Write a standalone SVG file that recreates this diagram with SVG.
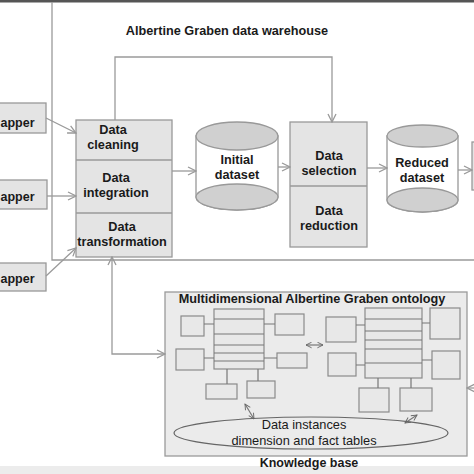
<svg xmlns="http://www.w3.org/2000/svg" width="474" height="474" viewBox="0 0 474 474">
<defs>
<style>
.box{fill:#e4e4e4;stroke:#999;stroke-width:1.3}
.ln{fill:none;stroke:#9a9a9a;stroke-width:1.3}
.cyl{fill:#fff;stroke:#999;stroke-width:1.3}
.cap{fill:#d0d0d0;stroke:#999;stroke-width:1.3}
.t{font-family:"Liberation Sans",Arial,sans-serif;font-size:12.7px;font-weight:bold;fill:#1a1a1a;text-anchor:middle}
.tw{font-family:"Liberation Sans",Arial,sans-serif;font-size:12.5px;font-weight:bold;fill:#1a1a1a}
.tn{font-family:"Liberation Sans",Arial,sans-serif;font-size:12.8px;fill:#1a1a1a;text-anchor:middle}
.sb{fill:#e8e8e8;stroke:#8a8a8a;stroke-width:1.2}
.sl{fill:none;stroke:#777;stroke-width:1.2}
</style>
<marker id="ah" viewBox="0 0 10 10" refX="9" refY="5" markerWidth="10" markerHeight="10" markerUnits="userSpaceOnUse" orient="auto-start-reverse">
<path d="M1,1 L9,5 L1,9" fill="none" stroke="#999" stroke-width="1.3"/>
</marker>
<marker id="sa" viewBox="0 0 10 10" refX="9" refY="5" markerWidth="7" markerHeight="7" markerUnits="userSpaceOnUse" orient="auto-start-reverse">
<path d="M1,1 L9,5 L1,9" fill="none" stroke="#666" stroke-width="1.3"/>
</marker>
</defs>
<rect width="474" height="474" fill="#fff"/>
<rect x="0" y="0" width="474" height="2.5" fill="#555"/>
<rect x="0" y="466" width="474" height="8" fill="#ececec"/>
<g id="warehouse">
<path class="ln" d="M52,2 V260 H474"/>
<text class="t" x="227" y="35">Albertine Graben data warehouse</text>
</g>
<g id="wrapper1"><rect class="box" x="-5" y="103" width="51" height="30"/><text class="tw" x="0.5" y="127">apper</text></g>
<g id="wrapper2"><rect class="box" x="-5" y="180" width="52" height="29"/><text class="tw" x="0.5" y="201">apper</text></g>
<g id="wrapper3"><rect class="box" x="-5" y="263" width="51" height="28"/><text class="tw" x="0.5" y="283">apper</text></g>
<g id="etl">
<rect class="box" x="76" y="120" width="96" height="137"/>
<line class="ln" x1="76" y1="160" x2="172" y2="160"/>
<line class="ln" x1="76" y1="213" x2="172" y2="213"/>
<text class="t" x="113" y="134">Data</text><text class="t" x="113" y="149">cleaning</text>
<text class="t" x="116" y="182">Data</text><text class="t" x="116" y="197">integration</text>
<text class="t" x="122" y="231">Data</text><text class="t" x="122" y="246">transformation</text>
</g>
<g id="initial">
<path class="cyl" d="M196,136 V197 A41,13 0 0 0 278,197 V136 Z"/>
<ellipse class="cap" cx="237" cy="197" rx="41" ry="13"/>
<ellipse class="cap" cx="237" cy="136" rx="41" ry="14"/>
<text class="t" x="237" y="164">Initial</text><text class="t" x="237" y="179">dataset</text>
</g>
<g id="selection">
<rect class="box" x="290" y="122" width="77" height="125"/>
<line class="ln" x1="290" y1="186" x2="367" y2="186"/>
<text class="t" x="329" y="160">Data</text><text class="t" x="329" y="175">selection</text>
<text class="t" x="329" y="215">Data</text><text class="t" x="329" y="230">reduction</text>
</g>
<g id="reduced">
<path class="cyl" d="M387,136 V200 A35.5,12 0 0 0 458,200 V136 Z"/>
<ellipse class="cap" cx="422.5" cy="200" rx="35.5" ry="12"/>
<ellipse class="cap" cx="422.5" cy="136" rx="35.5" ry="11"/>
<text class="t" x="422" y="167">Reduced</text><text class="t" x="422" y="182">dataset</text>
</g>
<g id="rightbox"><rect class="box" x="472" y="142" width="10" height="48"/></g>
<g id="ontology">
<rect x="165" y="292" width="302" height="164" fill="#ebebeb" stroke="#9a9a9a" stroke-width="1.3"/>
<text class="t" x="312" y="303" style="font-size:12.7px">Multidimensional Albertine Graben ontology</text>
<rect class="sb" x="214" y="309" width="50" height="60"/>
<path class="sl" d="M214,319 H264 M214,334 H264 M214,345 H264 M214,353 H264 M214,361 H264"/>
<rect class="sb" x="181" y="316" width="23" height="20"/>
<rect class="sb" x="176" y="349" width="28" height="21"/>
<rect class="sb" x="275" y="314" width="29" height="21"/>
<rect class="sb" x="277" y="353" width="30" height="15"/>
<rect class="sb" x="206" y="384" width="31" height="15"/>
<rect class="sb" x="247" y="381" width="28" height="17"/>
<path class="sl" d="M204,324 H214 M204,358 H214 M264,324 H275 M264,358 H277 M227,369 V384 M258,369 V381"/>
<rect class="sb" x="365" y="308" width="57" height="70"/>
<path class="sl" d="M365,319 H422 M365,331 H422 M365,340 H422 M365,349 H422 M365,363 H422"/>
<rect class="sb" x="326" y="317" width="30" height="25"/>
<rect class="sb" x="328" y="353" width="28" height="23"/>
<rect class="sb" x="430" y="308" width="30" height="31"/>
<rect class="sb" x="432" y="351" width="28" height="28"/>
<rect class="sb" x="359" y="388" width="30" height="24"/>
<rect class="sb" x="400" y="388" width="32" height="23"/>
<path class="sl" d="M356,325 H365 M356,365 H365 M422,323 H430 M422,360 H432 M378,378 V388 M411,378 V388"/>
<line class="sl" x1="306" y1="345" x2="323" y2="345" marker-start="url(#sa)" marker-end="url(#sa)"/>
<line class="sl" x1="245" y1="404" x2="254" y2="419" marker-start="url(#sa)" marker-end="url(#sa)"/>
<line class="sl" x1="405" y1="423" x2="417" y2="415" marker-start="url(#sa)" marker-end="url(#sa)"/>
<ellipse cx="311" cy="433" rx="137" ry="16" fill="none" stroke="#666" stroke-width="1.2"/>
<text class="tn" x="304" y="429">Data instances</text>
<text class="tn" x="304" y="445">dimension and fact tables</text>
<text class="t" x="309" y="467" style="font-size:12.5px">Knowledge base</text>
</g>
<g id="connectors">
<line class="ln" x1="46" y1="118" x2="76" y2="133" marker-end="url(#ah)"/>
<line class="ln" x1="47" y1="196" x2="76" y2="196" marker-end="url(#ah)"/>
<line class="ln" x1="46" y1="276" x2="76" y2="248" marker-end="url(#ah)"/>
<line class="ln" x1="172" y1="171" x2="196" y2="171" marker-end="url(#ah)"/>
<line class="ln" x1="278" y1="167" x2="290" y2="167" marker-end="url(#ah)"/>
<line class="ln" x1="367" y1="168" x2="387" y2="168" marker-end="url(#ah)"/>
<line class="ln" x1="458" y1="170" x2="472" y2="170" marker-end="url(#ah)"/>
<path class="ln" d="M115,120 V57 H332 V122" marker-end="url(#ah)"/>
<path class="ln" d="M112,257 V354 H165" marker-start="url(#ah)" marker-end="url(#ah)"/>
<line class="ln" x1="476" y1="388" x2="467" y2="388" marker-end="url(#ah)"/>
</g>
</svg>
